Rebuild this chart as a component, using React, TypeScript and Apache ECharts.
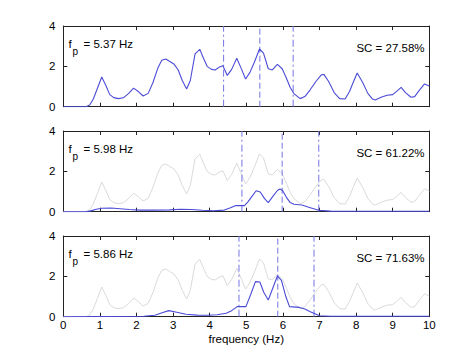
import React, { useEffect, useRef } from "react";
import * as echarts from "echarts";

const xTicks = [0, 1, 2, 3, 4, 5, 6, 7, 8, 9, 10];
const yTicks = [0, 2, 4];

// full spectrum (frequency Hz, amplitude)
const spectrum: number[][] = [
  [0, 0], [0.3, 0], [0.62, 0], [0.72, 0.08], [0.82, 0.38], [0.92, 0.85], [1.05, 1.47], [1.15, 1.1],
  [1.27, 0.6], [1.38, 0.45], [1.5, 0.4], [1.64, 0.44], [1.78, 0.65], [1.92, 0.92], [2.05, 0.75],
  [2.18, 0.53], [2.32, 0.66], [2.45, 1.2], [2.58, 1.9], [2.69, 2.3], [2.8, 2.36], [2.9, 2.25],
  [3.02, 2.12], [3.14, 1.82], [3.25, 1.3], [3.37, 0.88], [3.47, 1.3], [3.6, 2.62], [3.73, 2.84],
  [3.83, 2.4], [3.93, 2.0], [4.05, 1.85], [4.15, 1.82], [4.25, 1.95], [4.36, 2.03], [4.48, 1.55],
  [4.6, 1.85], [4.74, 2.4], [4.86, 1.9], [4.98, 1.37], [5.1, 1.7], [5.22, 2.2], [5.36, 2.86],
  [5.47, 2.66], [5.6, 1.88], [5.71, 1.82], [5.85, 2.1], [5.98, 1.88], [6.1, 1.4], [6.2, 0.95],
  [6.3, 0.65], [6.47, 0.4], [6.6, 0.5], [6.75, 0.85], [6.9, 1.25], [7.05, 1.58], [7.12, 1.6],
  [7.25, 1.25], [7.4, 0.7], [7.55, 0.4], [7.7, 0.38], [7.82, 0.75], [7.92, 1.2], [8.03, 1.67],
  [8.18, 1.2], [8.32, 0.66], [8.45, 0.38], [8.52, 0.33], [8.7, 0.48], [8.85, 0.57], [9.0, 0.6],
  [9.1, 0.75], [9.23, 0.96], [9.35, 0.7], [9.5, 0.47], [9.6, 0.5], [9.72, 0.8], [9.87, 1.13], [10, 1.03],
];

const filtered2: number[][] = [
  [0, 0], [0.6, 0], [0.75, 0.04], [0.9, 0.12], [1.05, 0.17], [1.3, 0.18], [1.55, 0.15], [1.8, 0.11],
  [2.1, 0.08], [2.5, 0.08], [2.9, 0.09], [3.2, 0.12], [3.5, 0.11], [3.8, 0.07], [4.1, 0.05],
  [4.4, 0.08], [4.55, 0.18], [4.7, 0.3], [4.95, 0.3], [5.05, 0.5], [5.15, 0.75], [5.27, 1.04],
  [5.38, 0.98], [5.5, 0.65], [5.6, 0.45], [5.72, 0.75], [5.85, 1.05], [5.92, 1.12], [5.99, 1.05],
  [6.1, 0.7], [6.2, 0.45], [6.3, 0.37], [6.52, 0.33], [6.75, 0.2], [6.98, 0.07], [7.3, 0.03],
  [8, 0.02], [10, 0.02],
];

const filtered3: number[][] = [
  [0, 0], [2.2, 0.02], [2.5, 0.07], [2.7, 0.2], [2.88, 0.3], [3.1, 0.22], [3.35, 0.12], [3.65, 0.08],
  [3.95, 0.07], [4.2, 0.1], [4.45, 0.17], [4.6, 0.3], [4.75, 0.5], [4.99, 0.5], [5.12, 1.1],
  [5.25, 1.74], [5.37, 1.72], [5.48, 1.2], [5.6, 0.83], [5.72, 1.4], [5.85, 2.02], [5.96, 1.8],
  [6.08, 1.0], [6.18, 0.5], [6.45, 0.46], [6.6, 0.38], [6.75, 0.25], [7.0, 0.05], [7.3, 0.02],
  [10, 0.02],
];

const peakFreq = [5.37, 5.98, 5.86];
const bandLow = [4.38, 4.88, 4.8];
const bandHigh = [6.28, 6.98, 6.85];
const scValues = ["27.58%", "61.22%", "71.63%"];
const xLabel = "frequency (Hz)";

const BLUE = "#4b4bd8";
const DASH = "#7474e6";
const GRAY = "#dadada";
const AX = "#222";
const FONT = "'Liberation Sans', Arial, sans-serif";

export default function App() {
  const ref = useRef<HTMLDivElement>(null);
  useEffect(() => {
    if (!ref.current) return;
    const chart = echarts.init(ref.current, undefined, { renderer: "svg" });
    const tops = [26, 131, 236];
    const gridH = 80.7;
    const curves = [spectrum, filtered2, filtered3];

    const grids = tops.map((t) => ({ left: 63.3, width: 366, top: t, height: gridH, show: false }));
    const xAxis: any[] = [];
    const yAxis: any[] = [];
    const series: any[] = [];
    const graphic: any[] = [];
    const line = { show: true, onZero: false, lineStyle: { color: AX, width: 1 } };
    const tick = { show: true, inside: true, length: 4, lineStyle: { color: AX } };

    tops.forEach((t, i) => {
      const isLast = i === 2;
      xAxis.push({
        type: "value", gridIndex: i, min: 0, max: 10, interval: 1, position: "bottom",
        axisLine: line, axisTick: tick,
        axisLabel: {
          show: isLast, color: "#000", fontSize: 11.5, fontFamily: FONT, margin: 2,
          formatter: (v: number) => (xTicks.includes(v) ? String(v) : ""),
        },
        splitLine: { show: false },
        name: isLast ? xLabel : "", nameLocation: "middle", nameGap: 16,
        nameTextStyle: { color: "#000", fontSize: 11.5, fontFamily: FONT },
      });
      xAxis.push({
        type: "value", gridIndex: i, min: 0, max: 10, interval: 1, position: "top",
        axisLine: line, axisTick: tick,
        axisLabel: { show: false }, splitLine: { show: false },
      });
      yAxis.push({
        type: "value", gridIndex: i, min: 0, max: 4, interval: 2, position: "left",
        axisLine: line, axisTick: tick,
        axisLabel: {
          color: "#000", fontSize: 11.5, fontFamily: FONT, margin: 8,
          formatter: (v: number) => (yTicks.includes(v) ? String(v) : ""),
        },
        splitLine: { show: false },
      });
      yAxis.push({
        type: "value", gridIndex: i, min: 0, max: 4, interval: 2, position: "right",
        axisLine: line, axisTick: tick,
        axisLabel: { show: false }, splitLine: { show: false },
      });

      if (i > 0) {
        series.push({
          type: "line", xAxisIndex: 2 * i, yAxisIndex: 2 * i, data: spectrum,
          showSymbol: false, symbol: "none", smooth: false,
          lineStyle: { color: GRAY, width: 1 }, silent: true, z: 1,
        });
      }
      const vlines: [number, number[]][] = [
        [bandLow[i], [7, 3, 2, 3]],
        [peakFreq[i], [6, 3]],
        [bandHigh[i], [7, 3, 2, 3]],
      ];
      vlines.forEach(([f, dash]) => {
        series.push({
          type: "line", xAxisIndex: 2 * i, yAxisIndex: 2 * i, data: [[f, 0], [f, 4]],
          showSymbol: false, symbol: "none", silent: true, z: 2,
          lineStyle: { color: DASH, width: 1, type: dash },
        });
      });
      series.push({
        type: "line", xAxisIndex: 2 * i, yAxisIndex: 2 * i, data: curves[i],
        showSymbol: false, symbol: "none", smooth: false,
        lineStyle: { color: BLUE, width: 1.1 }, silent: true, z: 3,
      });

      graphic.push(
        { type: "text", left: 68.5, top: t + 11.5, style: { text: "f", fontSize: 11.5, fontFamily: FONT, fill: "#000" } },
        { type: "text", left: 72.5, top: t + 20.5, style: { text: "p", fontSize: 10, fontFamily: FONT, fill: "#000" } },
        { type: "text", left: 83.5, top: t + 12, style: { text: "= " + peakFreq[i].toFixed(2) + " Hz", fontSize: 11.5, fontFamily: FONT, fill: "#000" } },
        { type: "text", right: 474 - 424.5, top: t + 15.5, style: { text: "SC = " + scValues[i], fontSize: 11.5, fontFamily: FONT, fill: "#000" } },
      );
    });

    chart.setOption({
      animation: false,
      backgroundColor: "#fff",
      grid: grids,
      xAxis,
      yAxis,
      series,
      graphic,
    });
    return () => chart.dispose();
  }, []);
  return <div ref={ref} style={{ position: "fixed", left: 0, top: 0, width: 474, height: 355 }} />;
}
